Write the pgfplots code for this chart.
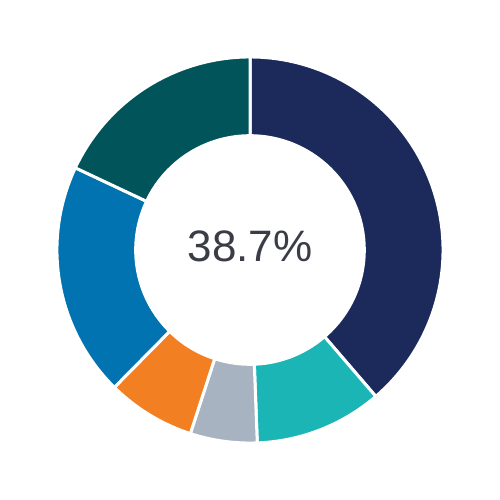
\documentclass[border=0pt]{standalone}
\usepackage{pgfplots}
\pgfplotsset{compat=1.18}
\usepackage{fontspec}
\setmainfont{Liberation Sans}
\definecolor{cnavy}{HTML}{1B2A5A}
\definecolor{cteal}{HTML}{1BB5B5}
\definecolor{cgray}{HTML}{A8B3C2}
\definecolor{corange}{HTML}{F27F22}
\definecolor{cblue}{HTML}{0073B0}
\definecolor{cgreen}{HTML}{00545A}
\definecolor{ctext}{HTML}{3A3D45}
% segment shares (percent), clockwise from 12 o'clock
% navy 38.7, teal 10.7, gray 5.6, orange 7.4, blue 19.6, green 18.0
\begin{document}
\begin{tikzpicture}
\begin{axis}[
  hide axis, scale only axis, width=250pt, height=250pt,
  xmin=-1.295, xmax=1.295, ymin=-1.295, ymax=1.295,
  clip=false, samples=90,
]
\addplot[draw=none] coordinates {(-1.295,-1.295) (1.295,1.295)};
% angles: 90 - 3.6*cumulative
\addplot[fill=cnavy, draw=white, line width=1.5pt, domain=-49.32:90] ({cos(x)},{sin(x)}) -- (axis cs:0,0) -- cycle;
\addplot[fill=cteal, draw=white, line width=1.5pt, domain=-87.84:-49.32] ({cos(x)},{sin(x)}) -- (axis cs:0,0) -- cycle;
\addplot[fill=cgray, draw=white, line width=1.5pt, domain=-108.0:-87.84] ({cos(x)},{sin(x)}) -- (axis cs:0,0) -- cycle;
\addplot[fill=corange, draw=white, line width=1.5pt, domain=-134.64:-108.0] ({cos(x)},{sin(x)}) -- (axis cs:0,0) -- cycle;
\addplot[fill=cblue, draw=white, line width=1.5pt, domain=-205.2:-134.64] ({cos(x)},{sin(x)}) -- (axis cs:0,0) -- cycle;
\addplot[fill=cgreen, draw=white, line width=1.5pt, domain=-270:-205.2] ({cos(x)},{sin(x)}) -- (axis cs:0,0) -- cycle;
\addplot[fill=white, draw=none, domain=0:360, samples=120] ({0.6*cos(x)},{0.6*sin(x)}) -- cycle;
\node[text=ctext, font=\fontsize{22}{26}\selectfont] at (axis cs:0,0.02) {38.7\%};
\end{axis}
\end{tikzpicture}
\end{document}
